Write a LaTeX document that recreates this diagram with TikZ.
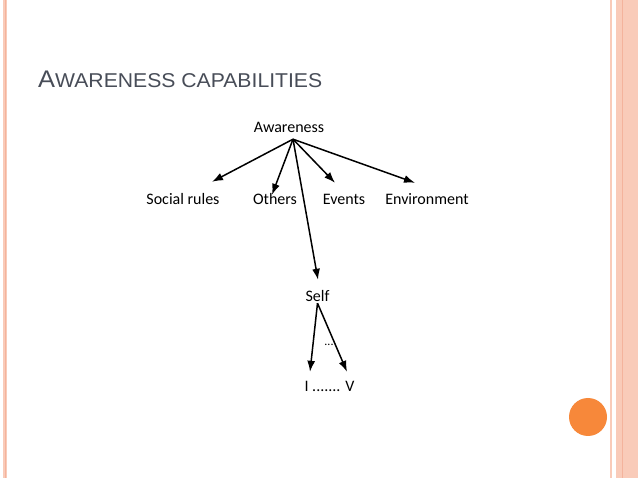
\documentclass[tikz,border=0pt]{standalone}
\usepackage{fontspec}
\usepackage{graphicx}
\setmainfont{Carlito}
\newfontfamily\titlefont{Liberation Sans}
\usetikzlibrary{arrows.meta,positioning}
\definecolor{titlegray}{RGB}{72,77,88}
\definecolor{softsalmon}{HTML}{F9CBB9}
\definecolor{deepsalmon}{HTML}{F4B39C}
\definecolor{dotorange}{HTML}{F7883A}

\begin{document}
\begin{tikzpicture}[
  x=1pt,y=-1pt,
  item/.style={font=\fontsize{16}{19}\selectfont,inner sep=2pt,
    text height=11pt,text depth=3pt,anchor=base},
  arrow/.style={-{Latex[length=11pt,width=8pt]},line width=1.5pt}
]
% slide frame
\useasboundingbox (0,0) rectangle (638,478);
\fill[white] (0,0) rectangle (638,478);
\fill[softsalmon] (3,0) rectangle (7,478);
\fill[deepsalmon] (4.5,0) rectangle (5.5,478);
\fill[softsalmon] (610,0) rectangle (612,478);
\fill[softsalmon] (616,0) rectangle (638,478);
\fill[deepsalmon] (621.5,0) rectangle (623,478);
\fill[dotorange] (588,417) circle (19);

% title
\node[anchor=base west,inner sep=0pt,text=titlegray] (title) at (38,88)
  {\titlefont\resizebox{284pt}{\height}{{\fontsize{24}{28}\selectfont A}{\fontsize{20}{24}\selectfont WARENESS CAPABILITIES}}};

% tree
\node[item] (aw) at (289,133) {Awareness};
\node[item] (soc) at (183,205) {Social rules};
\node[item] (oth) at (275,205) {Others};
\node[item] (evt) at (344,205) {Events};
\node[item] (env) at (427,205) {Environment};
\node[item] (self) at (317.5,302) {Self};
\node[item] (range) at (329.5,392) {I ....... V};
\node[font=\fontsize{12}{14}\selectfont,inner sep=0pt] (gap) at (329,345) {...};

\coordinate (apex) at ([xshift=4pt,yshift=-1pt]aw.south);
\draw[arrow] (apex) -- ([xshift=29pt,yshift=10pt]soc.north);
\draw[arrow] (apex) -- ([xshift=-3pt,yshift=-3pt]oth.north);
\draw[arrow] (apex) -- ([xshift=-9pt,yshift=9pt]evt.north);
\draw[arrow] (apex) -- ([xshift=-12pt,yshift=9pt]env.north);
\draw[arrow] (apex) -- ([xshift=0.5pt,yshift=9pt]self.north);

\coordinate (fork) at ([yshift=4pt]self.south);
\draw[arrow] (fork) -- ([xshift=-19.5pt,yshift=7pt]range.north);
\draw[arrow] (fork) -- ([xshift=17.5pt,yshift=7pt]range.north);
\end{tikzpicture}
\end{document}
